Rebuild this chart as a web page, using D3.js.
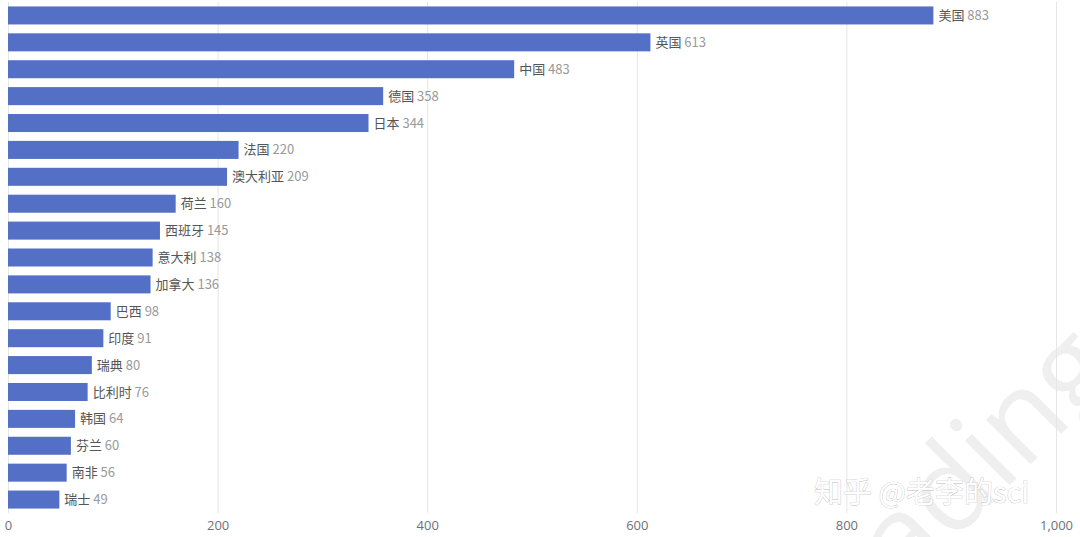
<!DOCTYPE html>
<html>
<head>
<meta charset="utf-8">
<script src="https://cdn.jsdelivr.net/npm/d3@7"></script>
<style>
  html, body { margin: 0; padding: 0; background: #fff; }
  svg { display: block; }
  text { font-family: "Noto Sans CJK SC", "Open Sans", sans-serif; }
</style>
</head>
<body>
<svg id="chart"></svg>
<script>
const countries = ["美国", "英国", "中国", "德国", "日本", "法国", "澳大利亚", "荷兰", "西班牙", "意大利",
  "加拿大", "巴西", "印度", "瑞典", "比利时", "韩国", "芬兰", "南非", "瑞士"];
const papers = [883, 613, 483, 358, 344, 220, 209, 160, 145, 138, 136, 98, 91, 80, 76, 64, 60, 56, 49];
const xTicks = [0, 200, 400, 600, 800, 1000];

const width = 1080;
const height = 537;
const left = 8;
const right = 1056;
const top_ = 2;
const bottom = 513;

const svg = d3.select("#chart").attr("width", width).attr("height", height);

const x = d3.scaleLinear().domain([0, 1000]).range([left, right]);
const y = d3.scaleBand().domain(countries).range([top_, bottom]).paddingInner(0.33).paddingOuter(0.165);

// background watermark, sits behind everything
svg.append("text")
  .attr("transform", "translate(905,590) rotate(-45)")
  .attr("font-size", 118)
  .attr("font-weight", 500)
  .style("font-family", "'Open Sans', sans-serif")
  .attr("fill", "#efefef")
  .text("ading");

// grid
svg.append("g")
  .selectAll("line")
  .data(xTicks)
  .enter()
  .append("line")
  .attr("x1", d => x(d) + 0.5)
  .attr("x2", d => x(d) + 0.5)
  .attr("y1", top_)
  .attr("y2", bottom)
  .attr("stroke", "#e6e6e6");

// bars
svg.append("g")
  .selectAll("rect")
  .data(papers)
  .enter()
  .append("rect")
  .attr("x", x(0))
  .attr("y", (d, i) => y(countries[i]))
  .attr("width", d => x(d) - x(0))
  .attr("height", y.bandwidth())
  .attr("fill", "#5470c6");

// bar labels: name then value
const labels = svg.append("g")
  .selectAll("text")
  .data(papers)
  .enter()
  .append("text")
  .attr("x", d => x(d) + 5)
  .attr("y", (d, i) => y(countries[i]) + y.bandwidth() / 2)
  .attr("dy", "0.35em")
  .attr("font-size", 13);

labels.append("tspan")
  .attr("fill", "#555")
  .text((d, i) => countries[i]);

labels.append("tspan")
  .attr("fill", "#999")
  .text(d => " " + d);

// x axis labels
const axis = svg.append("g")
  .attr("transform", `translate(0,${bottom})`)
  .call(d3.axisBottom(x).tickValues(xTicks).tickSize(0).tickPadding(8).tickFormat(d3.format(",")));
axis.select(".domain").remove();
axis.selectAll("text")
  .attr("fill", "#6e7079")
  .attr("font-size", 13)
  .style("font-family", "'Open Sans', sans-serif");
axis.selectAll("text")
  .filter(d => d === 1000)
  .attr("text-anchor", "middle");

// zhihu mark
svg.append("text")
  .attr("x", 814)
  .attr("y", 503)
  .attr("font-size", 29)
  .attr("fill", "#fff")
  .attr("stroke", "#bdbdbd")
  .attr("stroke-width", 0.7)
  .attr("paint-order", "stroke")
  .text("知乎 @老李的sci");
</script>
</body>
</html>
